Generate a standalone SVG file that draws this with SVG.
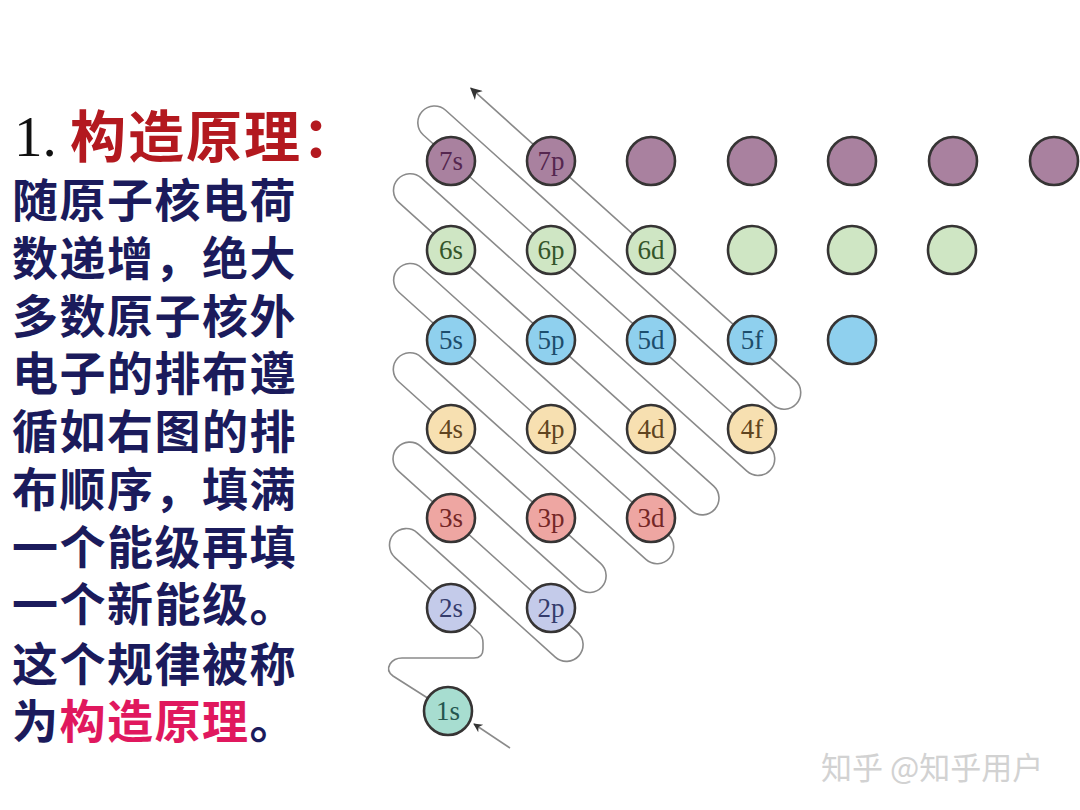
<svg xmlns="http://www.w3.org/2000/svg" width="1080" height="810" viewBox="0 0 1080 810">
<style>
.txt{font-family:"Noto Sans CJK SC",sans-serif;font-weight:bold;font-size:46px;fill:#1b1b5c;letter-spacing:1.5px}
.orb{stroke:#363434;stroke-width:2.6}
.lbl{font-family:"Liberation Serif",serif;font-size:27px;text-anchor:middle}
.wire{fill:none;stroke:#8a8a8a;stroke-width:1.6}
.o7{fill:#a9819f}.t7{fill:#55264f}
.o6{fill:#cfe6c4}.t6{fill:#34552a}
.o5{fill:#8fd0ee}.t5{fill:#1c4d6c}
.o4{fill:#f7e0b1}.t4{fill:#5f4420}
.o3{fill:#eea6a2}.t3{fill:#742626}
.o2{fill:#c4cbea}.t2{fill:#343c6c}
.o1{fill:#a7ddd0}.t1{fill:#24564f}
</style>
<defs>
<marker id="ahBig" viewBox="0 0 10 10" refX="9" refY="5" markerWidth="16" markerHeight="12" markerUnits="userSpaceOnUse" orient="auto">
<path d="M0,0 L10,5 L0,10 L3,5 z" fill="#333"/>
</marker>
<marker id="ahSmall" viewBox="0 0 10 10" refX="9" refY="5" markerWidth="11" markerHeight="9" markerUnits="userSpaceOnUse" orient="auto">
<path d="M0,0 L10,5 L0,10 L3,5 z" fill="#333"/>
</marker>
</defs>
<rect width="1080" height="810" fill="#ffffff"/>

<g id="title">
<text x="14" y="156" font-family="Liberation Serif, serif" font-size="57" fill="#111">1.</text>
<text x="70" y="157" font-family="Noto Sans CJK SC, sans-serif" font-weight="bold" font-size="56" fill="#b3191f" letter-spacing="2">构造原理：</text>
</g>

<g id="body-text">
<text class="txt" x="12" y="217">随原子核电荷</text>
<text class="txt" x="12" y="275">数递增，绝大</text>
<text class="txt" x="12" y="333">多数原子核外</text>
<text class="txt" x="12" y="390">电子的排布遵</text>
<text class="txt" x="12" y="448">循如右图的排</text>
<text class="txt" x="12" y="506">布顺序，填满</text>
<text class="txt" x="12" y="564">一个能级再填</text>
<text class="txt" x="12" y="621">一个新能级。</text>
<text class="txt" x="12" y="681">这个规律被称</text>
<text class="txt" x="12" y="738">为<tspan fill="#e0185e">构造原理</tspan>。</text>
</g>

<g id="connectors">
<path class="wire" marker-end="url(#ahSmall)" d="M510,748 L474,724"/>
<path class="wire" d="M448,711 L393,676 Q386,671 390,664 Q394,658 402,658 L474,658 Q483,658 483,649 L483,643 Q483,636 478,632 L451,608"/>
<g transform="translate(451,608) rotate(42)">
<path class="wire" marker-end="url(#ahBig)" d="M0,0 L-75.35,0 A16.65,16.65 0 0 1 -75.35,-33.3 L110.35,-33.3 A16.65,16.65 0 0 0 110.35,-66.6 L-130.55,-66.6 A16.65,16.65 0 0 1 -130.55,-99.9 L81.35,-99.9 A16.65,16.65 0 0 0 81.35,-133.2 L-190.15,-133.2 A16.65,16.65 0 0 1 -190.15,-166.5 L112.35,-166.5 A16.65,16.65 0 0 0 112.35,-199.8 L-249.65,-199.8 A16.65,16.65 0 0 1 -249.65,-233.1 L113.35,-233.1 A16.65,16.65 0 0 0 113.35,-266.4 L-309.85,-266.4 A16.65,16.65 0 0 1 -309.85,-299.7 L128.35,-299.7 A16.65,16.65 0 0 0 128.35,-333 L-337.05,-333 A16.65,16.65 0 0 1 -337.05,-366.3 L103.35,-366.3 A16.65,16.65 0 0 0 103.35,-399.6 L-333,-399.6"/>
</g>
</g>

<g id="n7s"><circle class="orb o7" cx="451" cy="161" r="24"/><text class="lbl t7" x="451" y="170">7s</text></g>
<g id="n7p"><circle class="orb o7" cx="551" cy="161" r="24"/><text class="lbl t7" x="551" y="170">7p</text></g>
<g id="n7d"><circle class="orb o7" cx="651" cy="161" r="24"/></g>
<g id="n7f"><circle class="orb o7" cx="752" cy="161" r="24"/></g>
<g id="n7g"><circle class="orb o7" cx="852" cy="161" r="24"/></g>
<g id="n7h"><circle class="orb o7" cx="953" cy="161" r="24"/></g>
<g id="n7i"><circle class="orb o7" cx="1054" cy="161" r="24"/></g>

<g id="n6s"><circle class="orb o6" cx="451" cy="250" r="24"/><text class="lbl t6" x="451" y="259">6s</text></g>
<g id="n6p"><circle class="orb o6" cx="551" cy="250" r="24"/><text class="lbl t6" x="551" y="259">6p</text></g>
<g id="n6d"><circle class="orb o6" cx="651" cy="250" r="24"/><text class="lbl t6" x="651" y="259">6d</text></g>
<g id="n6f"><circle class="orb o6" cx="752" cy="250" r="24"/></g>
<g id="n6g"><circle class="orb o6" cx="852" cy="250" r="24"/></g>
<g id="n6h"><circle class="orb o6" cx="952" cy="250" r="24"/></g>

<g id="n5s"><circle class="orb o5" cx="451" cy="340" r="24"/><text class="lbl t5" x="451" y="349">5s</text></g>
<g id="n5p"><circle class="orb o5" cx="551" cy="340" r="24"/><text class="lbl t5" x="551" y="349">5p</text></g>
<g id="n5d"><circle class="orb o5" cx="651" cy="340" r="24"/><text class="lbl t5" x="651" y="349">5d</text></g>
<g id="n5f"><circle class="orb o5" cx="752" cy="340" r="24"/><text class="lbl t5" x="752" y="349">5f</text></g>
<g id="n5g"><circle class="orb o5" cx="852" cy="340" r="24"/></g>

<g id="n4s"><circle class="orb o4" cx="451" cy="429" r="24"/><text class="lbl t4" x="451" y="438">4s</text></g>
<g id="n4p"><circle class="orb o4" cx="551" cy="429" r="24"/><text class="lbl t4" x="551" y="438">4p</text></g>
<g id="n4d"><circle class="orb o4" cx="651" cy="429" r="24"/><text class="lbl t4" x="651" y="438">4d</text></g>
<g id="n4f"><circle class="orb o4" cx="752" cy="429" r="24"/><text class="lbl t4" x="752" y="438">4f</text></g>

<g id="n3s"><circle class="orb o3" cx="451" cy="518" r="24"/><text class="lbl t3" x="451" y="527">3s</text></g>
<g id="n3p"><circle class="orb o3" cx="551" cy="518" r="24"/><text class="lbl t3" x="551" y="527">3p</text></g>
<g id="n3d"><circle class="orb o3" cx="651" cy="518" r="24"/><text class="lbl t3" x="651" y="527">3d</text></g>

<g id="n2s"><circle class="orb o2" cx="451" cy="608" r="24"/><text class="lbl t2" x="451" y="617">2s</text></g>
<g id="n2p"><circle class="orb o2" cx="551" cy="608" r="24"/><text class="lbl t2" x="551" y="617">2p</text></g>

<g id="n1s"><circle class="orb o1" cx="448" cy="711" r="24"/><text class="lbl t1" x="448" y="720">1s</text></g>

<g id="watermark">
<text x="821" y="779" font-family="Noto Sans CJK SC, sans-serif" font-size="31" fill="#d2d2d2">知乎 @知乎用户</text>
</g>
</svg>
